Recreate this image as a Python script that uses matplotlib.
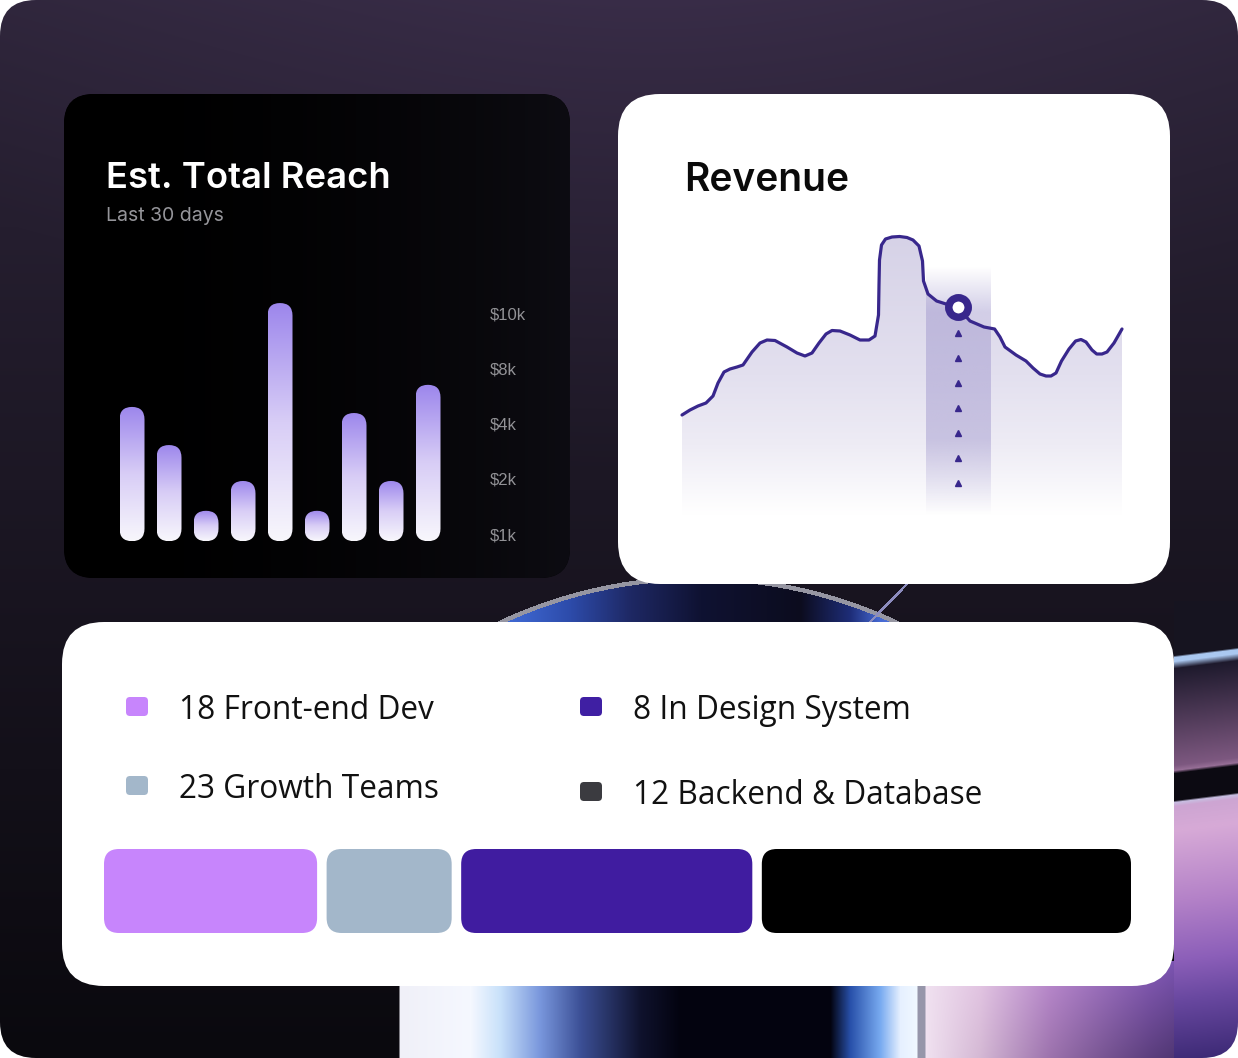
import numpy as np
import matplotlib.pyplot as plt
from matplotlib.patches import FancyBboxPatch, Polygon
from matplotlib.colors import LinearSegmentedColormap

W, H = 1238, 1058

# ---------------- data ----------------
# Est. Total Reach: bar tops on the tick scale (0 = $1k ... 4 = $10k)
reach_levels = [2.30, 1.61, 0.42, 0.96, 4.18, 0.42, 2.19, 0.96, 2.70]
reach_base = -0.13
reach_ticks = ['$1k', '$2k', '$4k', '$8k', '$10k']

# Revenue curve
rev_x = [0, 8, 16, 24, 31, 36, 42, 48, 55, 61, 70, 78, 85, 93, 105, 115, 123,
         130, 137, 144, 150, 158, 168, 178, 187, 193, 196.5, 197, 197.5, 199.5,
         203.5, 210, 217.6, 225, 231, 237, 240.5, 241.5, 246, 254.6, 264, 275.7,
         288, 302, 312.6, 318, 323, 334, 344, 351, 358, 364, 369, 374, 379.5,
         387, 393.6, 399, 404, 410, 414.7, 420, 425, 432, 440]
rev_y = [125, 130, 134, 137, 144, 157, 168, 171, 173, 175, 188, 197, 200, 199.5,
         193, 187, 184, 187, 197, 206, 209.5, 209, 205, 200, 200, 204, 225, 255,
         280, 295, 301, 303, 303.5, 302.5, 300, 294, 279, 259, 246, 239, 236,
         232.7, 219, 213, 211, 203, 193, 185, 179, 172, 166, 164, 164, 167, 179,
         191, 199, 200.5, 198, 190, 186, 186, 188, 197, 211]
rev_focus = 41          # highlighted point
rev_band = (244, 309)   # highlighted x-range

# Teams legend
team_counts = [18, 23, 8, 12]
team_names = ['Front-end Dev', 'Growth Teams', 'In Design System', 'Backend & Database']
team_colors = ['#C785FC', '#A3B7CA', '#3F1FA3', '#3B3B40']

# Split bar
split_share = [21.3, 12.5, 29.1, 36.9]
split_colors = ['#C785FC', '#A3B7CA', '#401CA0', '#000000']

LINE = '#38278C'


def build_backdrop():
    yy, xx = np.mgrid[0:H, 0:W].astype(float)
    t = (np.clip(yy / H, 0, 1) ** 0.9)[..., None]
    img = np.array([46, 37, 58]) * (1 - t) + np.array([10, 9, 14]) * t
    d = np.hypot(xx - 650, (yy + 150) * 1.3)
    img += np.clip(1 - d / 800, 0, 1)[..., None] * np.array([14, 10, 18])

    # dome behind the lower card
    dist = np.hypot(xx - 698, yy - 1045)
    near = yy < 640
    dome = (dist < 467) & near
    xs = [480, 520, 570, 630, 700, 800, 850, 880, 910]
    cols = np.array([[70, 110, 215], [60, 100, 205], [45, 75, 170], [30, 40, 100],
                     [15, 18, 50], [12, 12, 30], [30, 45, 120], [70, 105, 210],
                     [90, 125, 225]], float)
    for c in range(3):
        img[..., c] = np.where(dome, np.interp(xx, xs, cols[:, c]), img[..., c])
    img[(np.abs(dist - 467) < 2.2) & near] = [150, 150, 162]
    # thin diagonal stroke
    p0, p1 = np.array([869, 622]), np.array([908, 582])
    v = p1 - p0
    tt = np.clip(((xx - p0[0]) * v[0] + (yy - p0[1]) * v[1]) / (v @ v), 0, 1)
    dl = np.hypot(xx - (p0[0] + tt * v[0]), yy - (p0[1] + tt * v[1]))
    img[dl < 1.3] = [140, 140, 190]

    # bottom strip
    bx = [398, 400, 470, 500, 540, 580, 640, 680, 830, 850, 880, 900, 916, 918,
          924, 926, 980, 1050, 1150, 1238]
    bc = np.array([[12, 10, 16], [240, 240, 248], [245, 248, 255], [200, 225, 250],
                   [120, 150, 220], [60, 80, 150], [15, 18, 45], [3, 3, 15], [3, 3, 15],
                   [40, 80, 170], [120, 170, 240], [230, 240, 255], [240, 248, 255],
                   [150, 150, 170], [150, 150, 170], [240, 225, 240], [230, 200, 230],
                   [190, 140, 210], [135, 92, 185], [95, 65, 160]], float)
    strip = (yy > 960) & (xx >= 398)
    shade = 1 - 0.45 * np.clip((xx - 926) / 312, 0, 1) * np.clip((yy - 960) / 98, 0, 1)
    for c in range(3):
        img[..., c] = np.where(strip, np.interp(xx, bx, bc[:, c]) * shade, img[..., c])

    # curved bands on the right
    yp = yy + 0.125 * (xx - 1174)
    ry = [640, 655, 657, 661, 668, 765, 770, 773, 800, 802, 806, 830, 900, 960,
          1000, 1070]
    rc = np.array([[22, 20, 32], [22, 20, 32], [170, 200, 240], [170, 200, 240],
                   [30, 26, 45], [125, 88, 128], [150, 110, 150], [12, 10, 18],
                   [12, 10, 18], [200, 190, 225], [205, 165, 210], [215, 170, 215],
                   [180, 130, 200], [140, 95, 185], [105, 72, 160], [55, 38, 112]], float)
    right = (xx >= 1174) & (yy > 600)
    for c in range(3):
        img[..., c] = np.where(right, np.interp(yp, ry, rc[:, c]), img[..., c])
    return np.clip(img / 255, 0, 1)


def rbox(ax, x0, y0, w, h, r, fc, z=1, aspect=1.0):
    p = FancyBboxPatch((x0, y0), w, h, boxstyle=f'round,pad=0,rounding_size={r}',
                       mutation_aspect=aspect, fc=fc, ec='none', zorder=z)
    ax.add_patch(p)
    return p


def px_axes(x0, y0, x1, y1):
    ax = fig.add_axes([x0 / W, 1 - y1 / H, (x1 - x0) / W, (y1 - y0) / H])
    ax.patch.set_visible(False)
    for s in ax.spines.values():
        s.set_visible(False)
    return ax


fig = plt.figure(figsize=(W / 100, H / 100), dpi=100, facecolor='white')
bg = fig.add_axes([0, 0, 1, 1])
bg.axis('off')

frame = rbox(bg, 0, 0, W, H, 36, 'none', z=0)
back = bg.imshow(build_backdrop(), extent=(0, W, H, 0), interpolation='bilinear',
                 aspect='auto', zorder=0)
back.set_clip_path(frame)

# cards
card1 = rbox(bg, 64, 94, 506, 484, 30, '#000000', z=1)
shade1 = np.linspace(0, 1, 200) ** 2
card1_img = np.zeros((1, 200, 3)) + (shade1[None, :, None] * np.array([13, 12, 18]) / 255)
ci = bg.imshow(card1_img, extent=(64, 570, 578, 94), aspect='auto', zorder=1.5,
               interpolation='bilinear')
ci.set_clip_path(card1)
rbox(bg, 618, 94, 552, 490, 42, 'white', z=1)
rbox(bg, 62, 622, 1112, 364, 42, 'white', z=1)
bg.set_xlim(0, W)
bg.set_ylim(H, 0)

# titles
bg.text(106, 188, 'Est. Total Reach', color='white', fontsize=26.2, family='Inter',
        fontweight='semibold', va='baseline', zorder=3)
bg.text(106, 221, 'Last 30 days', color='#95959A', fontsize=14, family='Inter',
        va='baseline', zorder=3)
bg.text(684, 191, 'Revenue', color='#0A0A0A', fontsize=28, family='Inter',
        fontweight='semibold', va='baseline', zorder=3)

# ---------------- bar chart ----------------
ax1 = px_axes(100, 290, 484, 560)
bar_w = 25 / 37
ry_over_rx = 37 / 55.25
cmap_bar = LinearSegmentedColormap.from_list('reach', ['#F8F7FC', '#D8CDF6', '#9C86EC'])
grad = np.linspace(0, 1, 256).reshape(-1, 1)
for i, lev in enumerate(reach_levels):
    p = rbox(ax1, i - bar_w / 2, reach_base, bar_w, lev - reach_base, bar_w / 2,
             'none', z=2, aspect=ry_over_rx)
    g = ax1.imshow(grad, cmap=cmap_bar, origin='lower', aspect='auto',
                   extent=(i - bar_w / 2, i + bar_w / 2, reach_base, lev),
                   interpolation='bicubic', zorder=2)
    g.set_clip_path(p)
ax1.set_xlim((100 - 132) / 37, (484 - 132) / 37)
ax1.set_ylim((534 - 560) / 55.25, (534 - 290) / 55.25)
ax1.set_xticks([])
ax1.yaxis.tick_right()
ax1.set_yticks(range(len(reach_ticks)))
ax1.set_yticklabels(reach_ticks, family='Liberation Sans', fontsize=12, color='#929296')
ax1.tick_params(axis='y', length=0, pad=4.3)

# ---------------- revenue ----------------
ax2 = px_axes(660, 225, 1140, 525)
floor = 25
cmap_fill = LinearSegmentedColormap.from_list(
    'rev', [(0, '#FFFFFF'), (0.25, '#EEECF5'), (0.5, '#E3E0EF'), (1, '#D6D2E7')])
poly = Polygon(np.column_stack([rev_x + [rev_x[-1], rev_x[0]], rev_y + [floor, floor]]),
               closed=True, fc='none', ec='none')
ax2.add_patch(poly)
fill = ax2.imshow(grad, cmap=cmap_fill, origin='lower', aspect='auto',
                  extent=(rev_x[0], rev_x[-1], floor, max(rev_y)),
                  interpolation='bicubic', zorder=1)
fill.set_clip_path(poly)

band_top = 273
vals = np.linspace(floor, band_top, 256)
band = np.zeros((256, 1, 4))
band[..., 0], band[..., 1], band[..., 2] = 150 / 255, 140 / 255, 200 / 255
band[:, 0, 3] = np.interp(vals, [floor, 100, 228, band_top], [0, 0.42, 0.42, 0])
ax2.imshow(band, origin='lower', aspect='auto', interpolation='bicubic',
           extent=(rev_band[0], rev_band[1], floor, band_top), zorder=2)

ax2.plot(rev_x, rev_y, color=LINE, lw=2.3, solid_joinstyle='round',
         solid_capstyle='round', zorder=3)
fx, fy = rev_x[rev_focus], rev_y[rev_focus]
tri_y = np.arange(fy - 25.7, 50, -25)
ax2.plot(np.full(len(tri_y), fx), tri_y, ls='none', marker='^', ms=5, color=LINE, zorder=3)
ax2.plot([fx], [fy], marker='o', ms=14, mfc='white', mec=LINE, mew=5.4, zorder=4)
ax2.set_xlim(-22, 458)
ax2.set_ylim(15, 315)
ax2.set_xticks([])
ax2.set_yticks([])

# ---------------- team legend ----------------
legend_pos = [(126, 697, 719), (126, 776, 798), (580, 697, 719), (580, 782, 804)]
for (sx, sy, base), n, name, col in zip(legend_pos, team_counts, team_names, team_colors):
    rbox(bg, sx, sy, 22, 19, 4, col, z=3)
    bg.text(sx + 53, base, f'{n} {name}', family='Open Sans', fontsize=22.8,
            color='#111111', va='baseline', zorder=3)

# ---------------- split bar ----------------
ax3 = px_axes(104, 849, 1131, 933)
gap = 0.95
total = sum(split_share) + gap * (len(split_share) - 1)
unit = 1027 / total
left = 0
for share, col in zip(split_share, split_colors):
    rbox(ax3, left, 0, share, 1, 15 / unit, col, z=2, aspect=(15 / 84) / (15 / unit))
    left += share + gap
ax3.set_xlim(0, total)
ax3.set_ylim(0, 1)
ax3.set_xticks([])
ax3.set_yticks([])

fig.savefig('out.png', dpi=100, facecolor='white')
